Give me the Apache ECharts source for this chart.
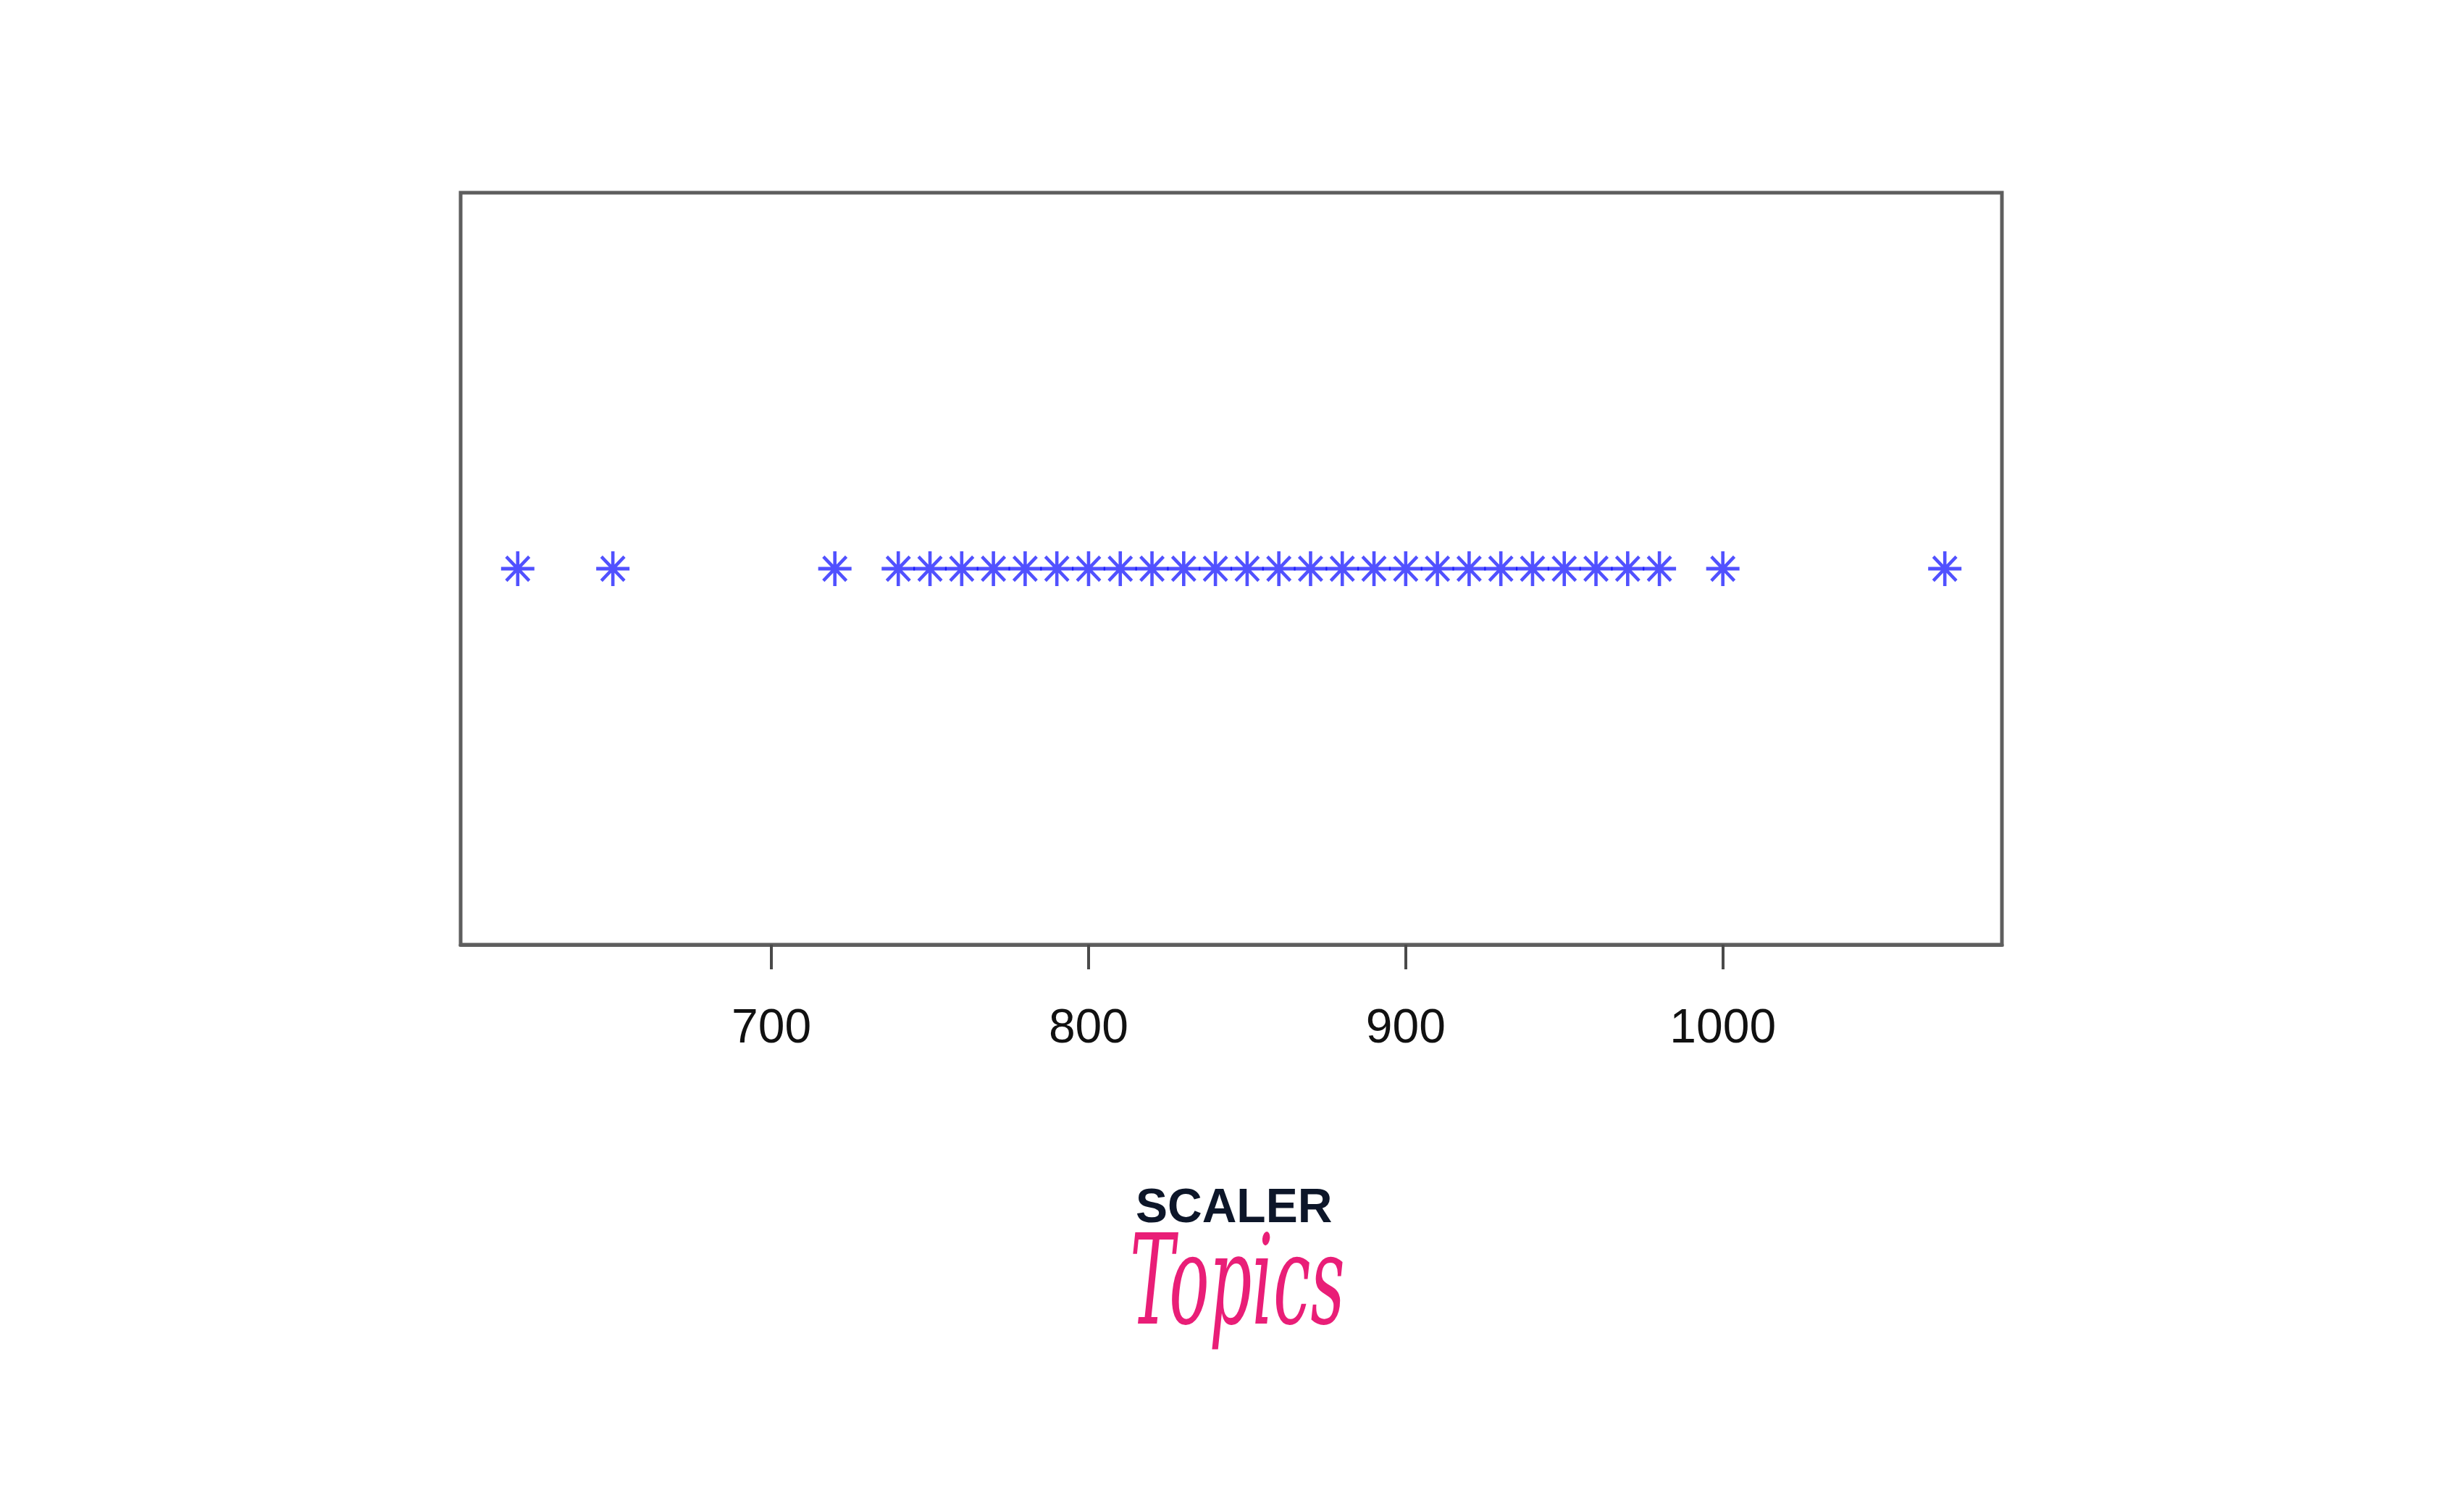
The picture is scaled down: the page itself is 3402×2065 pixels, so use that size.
<!DOCTYPE html>
<html>
<head>
<meta charset="utf-8">
<script src="https://cdn.jsdelivr.net/npm/echarts@6/dist/echarts.min.js"></script>
<style>
html,body{margin:0;padding:0;background:#fff;}
#main{width:3402px;height:2065px;}
</style>
</head>
<body>
<div id="main"></div>
<script>
// Data values (stripchart points)
const values = [620, 650, 720, 740, 750, 760, 770, 780, 790, 800, 810, 820, 830, 840, 850, 860, 870, 880, 890, 900, 910, 920, 930, 940, 950, 960, 970, 980, 1000, 1070];
const tickValues = [700, 800, 900, 1000];
const tickLabels = ['700', '800', '900', '1000'];
const xRange = [602, 1088];

const asterisk = 'path://M45 0 L55 0 L55 100 L45 100 Z M0 45 L100 45 L100 55 L0 55 Z M12 19 L19 12 L88 81 L81 88 Z M81 12 L88 19 L19 88 L12 81 Z';

const chart = echarts.init(document.getElementById('main'), null, {renderer: 'canvas'});
chart.setOption({
  backgroundColor: '#ffffff',
  animation: false,
  grid: {
    left: 636, top: 266, right: 638, bottom: 761,
    show: true, borderColor: '#5e5e5e', borderWidth: 5, backgroundColor: 'transparent'
  },
  xAxis: {
    type: 'value',
    min: xRange[0], max: xRange[1],
    splitLine: {show: false},
    axisLine: {show: true, onZero: false, lineStyle: {color: '#5e5e5e', width: 5}},
    axisTick: {show: true, customValues: tickValues, length: 34, lineStyle: {color: '#4a4a4a', width: 4}},
    axisLabel: {
      show: true, customValues: tickValues,
      formatter: v => tickLabels[tickValues.indexOf(v)] ?? String(v),
      fontFamily: '"Liberation Sans", Arial, sans-serif', fontSize: 66, color: '#111111', margin: 84
    }
  },
  yAxis: {
    type: 'value', min: 0, max: 2, show: false
  },
  series: [{
    type: 'scatter',
    data: values.map(v => [v, 1]),
    symbol: asterisk,
    symbolSize: [46, 48],
    itemStyle: {color: 'rgba(0,0,255,0.85)'}
  }],
  graphic: [
    {
      type: 'text', left: 1568, top: 1636,
      style: {text: 'SCALER', font: 'bold 66px "Liberation Sans", Arial, sans-serif', fill: '#0d1629'}
    },
    {
      type: 'text', x: 1560, y: 1696, scaleX: 0.92, scaleY: 1.72,
      style: {text: 'Topics', font: 'italic 100px "DejaVu Serif", serif', fill: '#e91e77'}
    }
  ]
});
</script>
</body>
</html>
